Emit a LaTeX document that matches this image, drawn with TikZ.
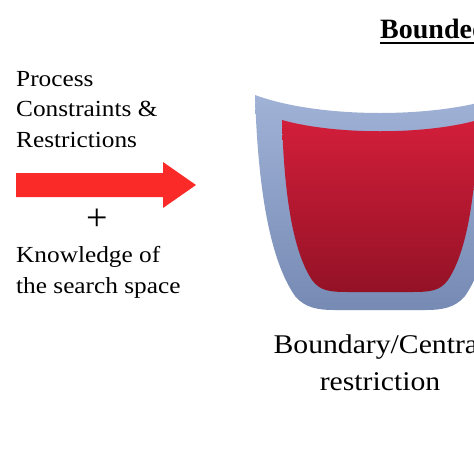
\documentclass[tikz,border=0pt]{standalone}
\usepackage{fontspec}
\setmainfont{Liberation Serif}[FakeStretch=1.1]
\newfontfamily\plainserif{Liberation Serif}
\definecolor{arrowred}{RGB}{250,42,40}
\definecolor{bluetop}{RGB}{160,178,214}
\definecolor{bluebot}{RGB}{118,138,180}
\definecolor{redtop}{RGB}{210,30,58}
\definecolor{redbot}{RGB}{148,18,38}
\tikzset{
  lefttext/.style={anchor=base west, inner sep=0pt, align=left, font=\fontsize{23}{30.5}\selectfont},
  captext/.style={anchor=base, inner sep=0pt, align=center, font=\fontsize{27}{37}\selectfont},
  titletext/.style={anchor=base west, inner sep=0pt, font=\plainserif\bfseries\fontsize{28}{32}\selectfont},
}
\begin{document}
\begin{tikzpicture}[x=1pt,y=-1pt]
\useasboundingbox (0,0) rectangle (474,474);
\clip (0,0) rectangle (474,474);
% title
\node[titletext] (title) at (380,38) {Bounded};
\draw[line width=2.5pt] ([yshift=-5pt]title.base west) -- ([yshift=-5pt]title.base east);
% left texts (base anchor = last line)
\node[lefttext] (pc) at (16,147) {Process\\Constraints \&\\Restrictions};
\node[lefttext] (kn) at (16,293) {Knowledge of\\the search space};
% arrow
\fill[arrowred] (16,173) -- (163,173) -- (163,162) -- (196,185) -- (163,208) -- (163,197) -- (16,197) -- cycle;
% plus
\node[inner sep=0pt, font=\plainserif\fontsize{38}{40}\selectfont] (plus) at (97,219.5) {+};
% outer blue shape
\shade[top color=bluetop, bottom color=bluebot]
  (255,95) .. controls (258,190) and (270,260) .. (295,296)
  .. controls (305,308) and (318,310) .. (335,310) -- (425,310)
  .. controls (442,310) and (455,308) .. (465,296)
  .. controls (490,260) and (502,190) .. (505,95)
  .. controls (440,119) and (320,119) .. cycle;
% inner red shape
\shade[top color=redtop, bottom color=redbot]
  (282,120) .. controls (284,190) and (292,250) .. (312,280)
  .. controls (320,291) and (330,292) .. (348,292) -- (412,292)
  .. controls (430,292) and (440,291) .. (448,280)
  .. controls (468,250) and (476,190) .. (478,120)
  .. controls (425,135) and (335,135) .. cycle;
% caption
\node[captext] (cap) at (380,390) {Boundary/Central\\restriction};
\end{tikzpicture}
\end{document}
